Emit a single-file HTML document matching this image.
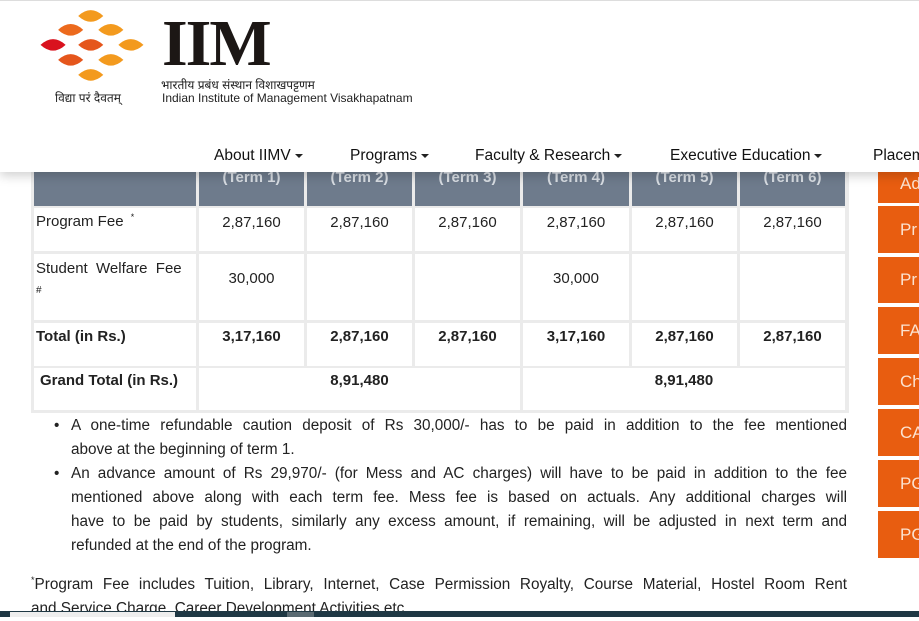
<!DOCTYPE html>
<html><head><meta charset="utf-8">
<style>
*{margin:0;padding:0;box-sizing:border-box}
body{width:919px;height:617px;overflow:hidden;background:#fff;font-family:"Liberation Sans","Noto Sans CJK SC",sans-serif;color:#222;position:relative}
.a{position:absolute}
.hdr{left:0;top:0;width:919px;height:172px;background:#fff;box-shadow:0 4px 10px rgba(0,0,0,.18);z-index:5;border-top:1px solid #ddd}
.nav{top:146px;font-size:15.5px;color:#111;white-space:nowrap}
.nav span.c{display:inline-block;width:0;height:0;border-left:4px solid transparent;border-right:4px solid transparent;border-top:4px solid #222;margin-left:4px;vertical-align:middle}
.cell{position:absolute;background:#fff;font-size:15px;display:flex;align-items:center;justify-content:center;text-align:center}
.hd{background:#6e7b8c;color:#d8dde3;font-weight:bold;align-items:flex-start;padding-top:0}
.b{font-weight:bold}
.btn{position:absolute;left:878px;width:41px;background:#e85d10;color:#fbe2d0;font-size:17px;padding-left:22px;display:flex;align-items:center;overflow:hidden;white-space:nowrap}
.txt{font-size:15.3px;line-height:24px;color:#222}
.j{text-align:justify;text-align-last:justify;white-space:nowrap;height:24px}
.l{text-align:left;white-space:nowrap;height:24px}
.sp{font-size:9px;position:relative;top:-6px;line-height:0}
</style></head><body>
<div class="a hdr">
 <svg class="a" style="left:38px;top:8px" width="108" height="74" viewBox="0 0 86 64" preserveAspectRatio="none">
  <path d="M32 6 Q42 -4 52 6 Q42 16 32 6Z" fill="#f39a1e"/>
  <path d="M16 18 Q26 8 36 18 Q26 28 16 18Z" fill="#ec6a1d"/>
  <path d="M48 18 Q58 8 68 18 Q58 28 48 18Z" fill="#f39a1e"/>
  <path d="M2 31 Q12 21 22 31 Q12 41 2 31Z" fill="#d9121e"/>
  <path d="M32 31 Q42 21 52 31 Q42 41 32 31Z" fill="#e5561c"/>
  <path d="M64 31 Q74 21 84 31 Q74 41 64 31Z" fill="#f39a1e"/>
  <path d="M16 44 Q26 34 36 44 Q26 54 16 44Z" fill="#e5561c"/>
  <path d="M48 44 Q58 34 68 44 Q58 54 48 44Z" fill="#f39a1e"/>
  <path d="M32 57 Q42 47 52 57 Q42 67 32 57Z" fill="#f39a1e"/>
 </svg>
 <div class="a" style="left:162px;top:10px;font-family:'Liberation Serif',serif;font-size:66px;font-weight:bold;color:#1c1715;line-height:66px;letter-spacing:-2px">IIM</div>
 <div class="a" style="left:161px;top:75px;font-size:12px;color:#222">भारतीय प्रबंध संस्थान विशाखपट्टणम</div>
 <div class="a" style="left:162px;top:90px;font-size:12px;color:#222">Indian Institute of Management Visakhapatnam</div>
 <div class="a" style="left:55px;top:88px;font-size:12px;color:#222">विद्या परं दैवतम्</div>
 <div class="a nav" style="left:214px">About IIMV<span class="c"></span></div>
 <div class="a nav" style="left:350px">Programs<span class="c"></span></div>
 <div class="a nav" style="left:475px">Faculty &amp; Research<span class="c"></span></div>
 <div class="a nav" style="left:670px">Executive Education<span class="c"></span></div>
 <div class="a nav" style="left:873px">Placements</div>
</div>

<div class="a" style="left:31px;top:160px;width:818px;height:253px;background:#ebebeb"></div>
<div class="cell hd" style="left:34px;top:160px;width:162px;height:46px"></div>
<div class="cell hd" style="left:199px;top:160px;width:105px;height:46px;padding-top:9px">(Term 1)</div>
<div class="cell hd" style="left:307px;top:160px;width:105px;height:46px;padding-top:9px">(Term 2)</div>
<div class="cell hd" style="left:415px;top:160px;width:105px;height:46px;padding-top:9px">(Term 3)</div>
<div class="cell hd" style="left:523px;top:160px;width:106px;height:46px;padding-top:9px">(Term 4)</div>
<div class="cell hd" style="left:632px;top:160px;width:105px;height:46px;padding-top:9px">(Term 5)</div>
<div class="cell hd" style="left:740px;top:160px;width:105px;height:46px;padding-top:9px">(Term 6)</div>

<div class="cell" style="left:34px;top:208px;width:162px;height:43px;justify-content:flex-start;align-items:flex-start;padding:5px 0 0 2px"><span>Program Fee <span class="sp" style="margin-left:3px">*</span></span></div>
<div class="cell" style="left:199px;top:208px;width:105px;height:43px;align-items:flex-start;padding-top:6px">2,87,160</div>
<div class="cell" style="left:307px;top:208px;width:105px;height:43px;align-items:flex-start;padding-top:6px">2,87,160</div>
<div class="cell" style="left:415px;top:208px;width:105px;height:43px;align-items:flex-start;padding-top:6px">2,87,160</div>
<div class="cell" style="left:523px;top:208px;width:106px;height:43px;align-items:flex-start;padding-top:6px">2,87,160</div>
<div class="cell" style="left:632px;top:208px;width:105px;height:43px;align-items:flex-start;padding-top:6px">2,87,160</div>
<div class="cell" style="left:740px;top:208px;width:105px;height:43px;align-items:flex-start;padding-top:6px">2,87,160</div>

<div class="cell" style="left:34px;top:254px;width:162px;height:66px;display:block;text-align:justify;padding:5px 0 0 2px;line-height:20px">Student&nbsp; Welfare&nbsp; Fee<br><span style="font-size:10px">#</span></div>
<div class="cell" style="left:199px;top:254px;width:105px;height:66px;align-items:flex-start;padding-top:16px">30,000</div>
<div class="cell" style="left:307px;top:254px;width:105px;height:66px"></div>
<div class="cell" style="left:415px;top:254px;width:105px;height:66px"></div>
<div class="cell" style="left:523px;top:254px;width:106px;height:66px;align-items:flex-start;padding-top:16px">30,000</div>
<div class="cell" style="left:632px;top:254px;width:105px;height:66px"></div>
<div class="cell" style="left:740px;top:254px;width:105px;height:66px"></div>

<div class="cell b" style="left:34px;top:323px;width:162px;height:43px;justify-content:flex-start;align-items:flex-start;padding:5px 0 0 2px">Total (in Rs.)</div>
<div class="cell b" style="left:199px;top:323px;width:105px;height:43px;align-items:flex-start;padding-top:5px">3,17,160</div>
<div class="cell b" style="left:307px;top:323px;width:105px;height:43px;align-items:flex-start;padding-top:5px">2,87,160</div>
<div class="cell b" style="left:415px;top:323px;width:105px;height:43px;align-items:flex-start;padding-top:5px">2,87,160</div>
<div class="cell b" style="left:523px;top:323px;width:106px;height:43px;align-items:flex-start;padding-top:5px">3,17,160</div>
<div class="cell b" style="left:632px;top:323px;width:105px;height:43px;align-items:flex-start;padding-top:5px">2,87,160</div>
<div class="cell b" style="left:740px;top:323px;width:105px;height:43px;align-items:flex-start;padding-top:5px">2,87,160</div>

<div class="cell b" style="left:34px;top:368px;width:162px;height:42px;justify-content:flex-start;align-items:flex-start;padding:4px 0 0 6px">Grand Total (in Rs.)</div>
<div class="cell b" style="left:199px;top:368px;width:321px;height:42px;align-items:flex-start;padding-top:4px">8,91,480</div>
<div class="cell b" style="left:523px;top:368px;width:322px;height:42px;align-items:flex-start;padding-top:4px">8,91,480</div>

<div class="a txt" style="left:71px;top:414px;width:776px">
<div class="j" style="position:relative"><span class="a" style="left:-17px">•</span>A one-time refundable caution deposit of Rs 30,000/- has to be paid in addition to the fee mentioned</div>
<div class="l">above at the beginning of term 1.</div>
<div class="j" style="position:relative"><span class="a" style="left:-17px">•</span>An advance amount of Rs 29,970/- (for Mess and AC charges) will have to be paid in addition to the fee</div>
<div class="j">mentioned above along with each term fee. Mess fee is based on actuals. Any additional charges will</div>
<div class="j">have to be paid by students, similarly any excess amount, if remaining, will be adjusted in next term and</div>
<div class="l">refunded at the end of the program.</div>
</div>
<div class="a txt" style="left:31px;top:573px;width:816px">
<div class="j"><span class="sp">*</span>Program Fee includes Tuition, Library, Internet, Case Permission Royalty, Course Material, Hostel Room Rent</div>
<div class="l">and Service Charge, Career Development Activities etc.</div>
</div>

<div class="btn" style="top:160px;height:43px;z-index:1;padding-top:4px">Ad</div>
<div class="btn" style="top:206px;height:47px">Pr</div>
<div class="btn" style="top:257px;height:46px">Pr</div>
<div class="btn" style="top:307px;height:47px">FA</div>
<div class="btn" style="top:358px;height:47px">Ch</div>
<div class="btn" style="top:409px;height:47px">CA</div>
<div class="btn" style="top:460px;height:47px">PG</div>
<div class="btn" style="top:511px;height:47px">PG</div>

<div class="a" style="left:0;top:611px;width:919px;height:6px;background:#1f3844"></div>
<div class="a" style="left:10px;top:612px;width:165px;height:5px;background:#eeeeee"></div>
<div class="a" style="left:287px;top:612px;width:27px;height:5px;background:#5a6a72"></div>
</body></html>
